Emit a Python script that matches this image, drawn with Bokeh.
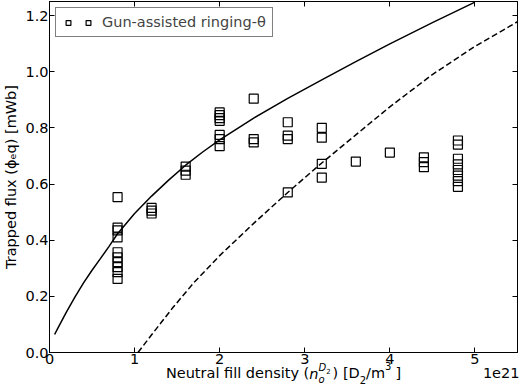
import glob
from bokeh.plotting import figure
from bokeh.models import (Range1d, FixedTicker, LinearAxis, Legend,
                          LegendItem, NumeralTickFormatter)
from bokeh.embed import file_html
from bokeh.resources import INLINE

# ---------------- data (x in units of 1e21 D2/m^3, y in mWb) ----------------
fill_density = ([0.8] * 10 + [1.2] * 3 + [1.6] * 3 + [2.0] * 7 + [2.4] * 3 +
                [2.8] * 4 + [3.2] * 4 + [3.6] + [4.0] + [4.4] * 3 + [4.8] * 8)
trapped_flux = [0.553, 0.445, 0.435, 0.41, 0.357, 0.339, 0.322, 0.304, 0.286, 0.262,
                0.515, 0.505, 0.495,
                0.662, 0.648, 0.633,
                0.855, 0.845, 0.835, 0.825, 0.775, 0.76, 0.735,
                0.904, 0.76, 0.748,
                0.82, 0.772, 0.76, 0.57,
                0.80, 0.765, 0.672, 0.623,
                0.68,
                0.712,
                0.695, 0.678, 0.66,
                0.755, 0.74, 0.69, 0.67, 0.65, 0.63, 0.61, 0.59]

solid_x = [0.06, 0.1, 0.2, 0.3, 0.4, 0.5, 0.6, 0.7, 0.8, 1.0, 1.2, 1.4, 1.6, 1.8,
           2.0, 2.4, 2.8, 3.2, 3.6, 4.0, 4.5, 5.0]
solid_y = [0.064, 0.088, 0.145, 0.198, 0.248, 0.293, 0.335, 0.378, 0.423, 0.495,
           0.557, 0.614, 0.667, 0.714, 0.757, 0.835, 0.905, 0.971, 1.036, 1.099,
           1.175, 1.248]

dashed_x = [1.04, 1.2, 1.45, 1.7, 2.0, 2.4, 2.8, 3.2, 3.6, 4.0, 4.5, 5.0, 5.5]
dashed_y = [0.0, 0.063, 0.16, 0.25, 0.345, 0.46, 0.57, 0.675, 0.775, 0.875, 0.99,
            1.09, 1.178]

x_ticks = [0, 1, 2, 3, 4, 5]
y_ticks = [0.0, 0.2, 0.4, 0.6, 0.8, 1.0, 1.2]
legend_label = "Gun-assisted ringing-θ"
y_label = "Trapped flux (ϕₑq) [mWb]"
offset_text = "1e21"

# x-label pieces: (text, font px, raise px, italic, advances, gap after px)
FS, SUB, SUBSUB = 14.5, 10, 7
xlabel_pieces = [
    ("Neutral fill density (", FS, 0, False, True, 0),
    ("n", FS, 0, True, True, 0),
    ("o", SUB, -3, True, False, 0),
    ("D", SUB, 5, True, True, 0),
    ("2", SUBSUB, 3, False, True, 2),
    (") [D", FS, 0, False, True, 0),
    ("2", SUB, -3, False, True, 0),
    ("/m", FS, 0, False, True, 0),
    ("3", SUB, 6, False, True, 4),
    ("]", FS, 0, False, True, 0),
]

# ---------------- geometry ----------------
W, H = 520, 389
FRAME_L, FRAME_T, FRAME_R, FRAME_B = 49, 1, 517, 352
X0, X1, Y0, Y1 = 0.0, 5.5, 0.0, 1.25
FONT = "DejaVu Sans"
XLAB_BASE = 381.5          # baseline of the x label row (page px)
HB, AB = 1.2265, 0.97      # tick-label box height / baseline offset (em)

p = figure(width=W, height=H, output_backend="svg", title=None,
           toolbar_location=None, x_range=Range1d(X0, X1), y_range=Range1d(Y0, Y1),
           min_border_left=FRAME_L, min_border_right=W - FRAME_R,
           min_border_top=FRAME_T, min_border_bottom=H - FRAME_B)
p.background_fill_color = "white"
p.border_fill_color = "white"
p.outline_line_color = "black"
p.outline_line_width = 1
p.xgrid.visible = False
p.ygrid.visible = False


def style_axis(ax, ticks, show_labels, fmt=None):
    ax.ticker = FixedTicker(ticks=ticks)
    ax.axis_line_color = "black"
    ax.major_tick_line_color = "black"
    ax.major_tick_in = 5
    ax.major_tick_out = 0
    ax.minor_tick_line_color = None
    if fmt is not None:
        ax.formatter = fmt
    if show_labels:
        ax.major_label_text_font = FONT
        ax.major_label_text_font_size = f"{FS}px"
        ax.major_label_text_color = "black"
        ax.major_label_standoff = 1
    else:
        ax.major_label_text_font_size = "1px"
        ax.major_label_text_color = None
        ax.major_label_standoff = 0
    ax.axis_label_text_font = FONT
    ax.axis_label_text_font_size = f"{FS}px"
    ax.axis_label_text_font_style = "normal"
    ax.axis_label_text_color = "black"


style_axis(p.xaxis[0], x_ticks, True)
ya = p.yaxis[0]
style_axis(ya, y_ticks, True, NumeralTickFormatter(format="0.0"))
ya.axis_label = y_label
ya.axis_label_standoff = 3

top_ax = LinearAxis()
right_ax = LinearAxis()
style_axis(top_ax, x_ticks, False)
style_axis(right_ax, y_ticks, False)
p.add_layout(top_ax, "above")
p.add_layout(right_ax, "right")

p.line(solid_x, solid_y, line_color="black", line_width=1.5)
p.line(dashed_x, dashed_y, line_color="black", line_width=1.5, line_dash="6 3")

sq = p.scatter(fill_density, trapped_flux, marker="square", size=9,
               fill_color=None, line_color="black", line_width=1.2)

legend = Legend(items=[LegendItem(label="", renderers=[sq]),
                       LegendItem(label=legend_label, renderers=[sq])],
                orientation="horizontal", location="top_left", margin=6,
                padding=6, spacing=0, glyph_width=12, glyph_height=15,
                label_height=15, label_width=0, label_standoff=8,
                label_text_font=FONT, label_text_font_size=f"{FS}px",
                border_line_color="black", border_line_width=1,
                background_fill_color="white", background_fill_alpha=1.0)
p.add_layout(legend)

# ---------------- text measurement ----------------
_ADV = {" ": 651, "(": 799, ")": 799, "[": 799, "]": 799, "/": 690, "-": 739,
        ".": 651, "N": 1532, "D": 1577, "T": 1251, "W": 2025, "G": 1595,
        "a": 1255, "b": 1300, "d": 1300, "e": 1260, "f": 721, "g": 1300,
        "i": 569, "l": 569, "m": 1995, "n": 1298, "o": 1253, "p": 1300, "q": 1300,
        "r": 842, "s": 1067, "t": 803, "u": 1298, "x": 1212, "y": 1212}
_font_cache = {}


def _find_font(italic):
    name = "DejaVuSans-Oblique.ttf" if italic else "DejaVuSans.ttf"
    for root in ["/usr/share/fonts", "/usr/local/share/fonts", "/usr/lib", "/opt"]:
        hits = glob.glob(f"{root}/**/{name}", recursive=True)
        if hits:
            return hits[0]
    return None


def text_width(text, size, italic):
    if italic not in _font_cache:
        try:
            from PIL import ImageFont
            path = _find_font(italic)
            _font_cache[italic] = ImageFont.truetype(path, 200) if path else None
        except Exception:
            _font_cache[italic] = None
    f = _font_cache[italic]
    if f is not None:
        try:
            return f.getlength(text) * size / 200.0
        except Exception:
            pass
    return sum(_ADV.get(c, 1303) for c in text) / 2048.0 * size


def place(pieces, center):
    total = sum(text_width(t, s, it) + g for t, s, sh, it, adv, g in pieces if adv)
    cur = center - total / 2.0
    out = []
    for t, s, sh, it, adv, g in pieces:
        w = text_width(t, s, it)
        out.append((t, s, sh, it, cur + w / 2.0))
        if adv:
            cur += w + g
    return out


def piece_axis(items, size, italic, standoff):
    vals = [round(X0 + (c - FRAME_L) * (X1 - X0) / (FRAME_R - FRAME_L), 6)
            for c, t in items]
    ax = LinearAxis(ticker=FixedTicker(ticks=vals),
                    major_label_overrides={v: t for v, (c, t) in zip(vals, items)})
    ax.axis_line_color = None
    ax.major_tick_line_color = None
    ax.minor_tick_line_color = None
    ax.major_tick_in = 0
    ax.major_tick_out = 0
    ax.major_label_text_font = FONT
    ax.major_label_text_font_size = f"{size}px"
    ax.major_label_text_font_style = "italic" if italic else "normal"
    ax.major_label_text_color = "black"
    ax.major_label_standoff = standoff
    return ax


# x label row + offset text, drawn as tick labels of stacked bottom panels
xplaced = place(xlabel_pieces, (FRAME_L + FRAME_R) / 2.0)
xplaced.append((offset_text, FS, 0, False,
                519 - text_width(offset_text, FS, False) / 2.0))
groups = {}
for t, s, sh, it, c in xplaced:
    groups.setdefault((s, it, sh), []).append((c, t))
order = []
for (s, it, sh), items in groups.items():
    top = XLAB_BASE - sh - AB * s
    order.append((top + HB * s, top, s, it, items))
order.sort(key=lambda r: r[0])
cur = FRAME_B + 1 + HB * FS
for bottom, top, s, it, items in order:
    so = int(round(top - cur))
    p.add_layout(piece_axis(items, s, it, so), "below")
    cur += so + HB * s

open("out.html", "w").write(file_html(p, INLINE))
